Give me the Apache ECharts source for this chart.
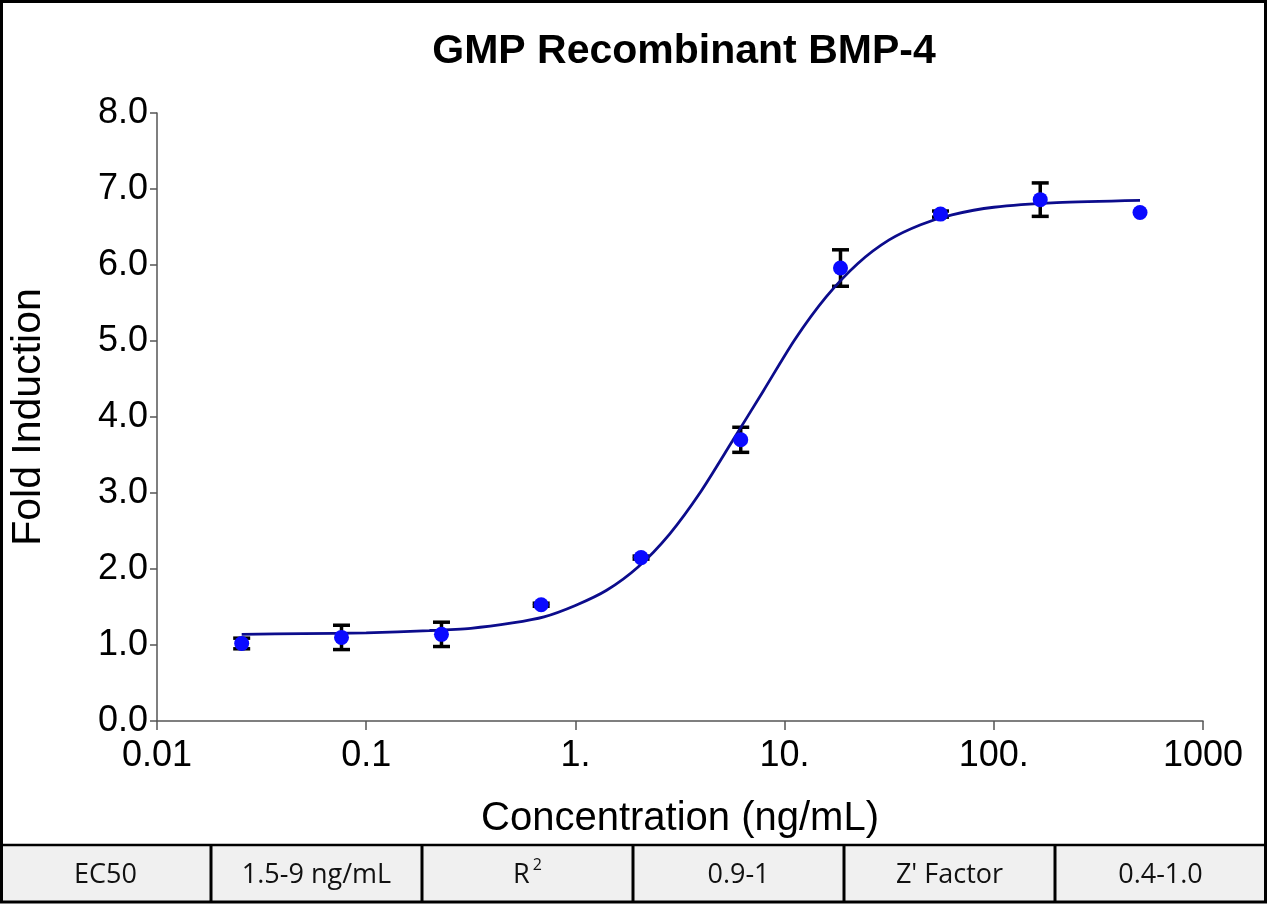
<!DOCTYPE html>
<html>
<head>
<meta charset="utf-8">
<script src="https://cdn.jsdelivr.net/npm/echarts@6/dist/echarts.min.js"></script>
<style>
html,body{margin:0;padding:0;background:#fff;}
#chart{width:1269px;height:905px;}
</style>
</head>
<body>
<div id="chart"></div>
<script>
// Concentrations (ng/mL), 3-fold dilution series
var concentrations = [0.0254, 0.0762, 0.229, 0.686, 2.06, 6.17, 18.5, 55.6, 166.7, 500];
var foldInduction = [1.02, 1.10, 1.14, 1.53, 2.15, 3.70, 5.96, 6.67, 6.86, 6.69];
var errorSize = [0.07, 0.16, 0.16, 0.02, 0.02, 0.165, 0.24, 0.04, 0.22, 0.0];

// Fitted curve
var curveX = [0.0254, 0.05, 0.1, 0.2, 0.316, 0.5, 0.708, 1.0, 1.41, 2.0, 2.82, 3.98, 5.62, 7.94, 11.2, 15.8, 22.4, 31.6, 44.7, 63.1, 100, 200, 500];
var curveY = [1.14, 1.15, 1.16, 1.19, 1.22, 1.29, 1.37, 1.52, 1.72, 2.03, 2.46, 3.02, 3.68, 4.35, 5.02, 5.58, 6.02, 6.33, 6.53, 6.66, 6.76, 6.82, 6.85];

var xTickLabels = ['0.01', '0.1', '1.', '10.', '100.', '1000'];
var yTickLabels = ['0.0', '1.0', '2.0', '3.0', '4.0', '5.0', '6.0', '7.0', '8.0'];

var tableCells = ['EC50', '1.5-9 ng/mL', 'R2', '0.9-1', "Z' Factor", '0.4-1.0'];

var chart = echarts.init(document.getElementById('chart'));

var pointData = concentrations.map(function (c, i) { return [c, foldInduction[i]]; });
var errData = concentrations.map(function (c, i) {
  return [c, foldInduction[i] - errorSize[i], foldInduction[i] + errorSize[i]];
});
var curveData = curveX.map(function (c, i) { return [c, curveY[i]]; });

var FONT = '"Liberation Sans", Arial, sans-serif';

// table graphics
var tableTop = 845, tableBottom = 902, W = 1269;
var colW = 211;
var graphics = [];
graphics.push({
  type: 'rect', z: 0,
  shape: { x: 1.5, y: tableTop, width: W - 5, height: tableBottom - tableTop },
  style: { fill: '#f0f0f0', stroke: null }
});
for (var c = 1; c < 6; c++) {
  graphics.push({
    type: 'line', z: 10,
    shape: { x1: c * colW, y1: tableTop, x2: c * colW, y2: tableBottom },
    style: { stroke: '#000', lineWidth: 3 }
  });
}
graphics.push({
  type: 'line', z: 10,
  shape: { x1: 0, y1: tableTop, x2: W - 3, y2: tableTop },
  style: { stroke: '#000', lineWidth: 2.5 }
});
tableCells.forEach(function (t, i) {
  var txt = t === 'R2' ? '{r|R}{s|2}' : t;
  graphics.push({
    type: 'text', z: 11,
    x: i * colW + colW / 2, y: (tableTop + tableBottom) / 2 + 2,
    style: {
      text: txt,
      font: '27px "Open Sans", sans-serif',
      fill: '#111',
      align: 'center', verticalAlign: 'middle',
      rich: {
        r: { fontSize: 27, fontFamily: 'Open Sans', fill: '#111' },
        s: { fontSize: 16, fontFamily: 'Open Sans', fill: '#111', verticalAlign: 'top', padding: [0, 0, 20, 3] }
      }
    }
  });
});
// outer border
graphics.push({
  type: 'rect', z: 12,
  shape: { x: 1.5, y: 1.5, width: W - 5, height: tableBottom - 1.5 },
  style: { fill: null, stroke: '#000', lineWidth: 3 }
});

var option = {
  animation: false,
  backgroundColor: '#fff',
  title: {
    text: 'GMP Recombinant BMP-4',
    left: 679, top: 26, textAlign: 'center',
    textStyle: { fontFamily: FONT, fontWeight: 'bold', fontSize: 41, color: '#000' }
  },
  grid: { left: 154, right: 66, top: 113, bottom: 184, containLabel: false },
  xAxis: {
    type: 'log', logBase: 10, min: 0.01, max: 1000,
    name: 'Concentration (ng/mL)', nameLocation: 'middle', nameGap: 78,
    nameTextStyle: { fontFamily: FONT, fontSize: 40, color: '#000' },
    axisLine: { show: true, lineStyle: { color: '#555', width: 1.5 } },
    axisTick: { show: true, length: 9, lineStyle: { color: '#555', width: 1.5 } },
    minorTick: { show: false },
    splitLine: { show: false },
    axisLabel: {
      fontFamily: FONT, fontSize: 36, color: '#000', margin: 17,
      formatter: function (v) {
        var idx = Math.round(Math.log10(v)) + 2;
        return xTickLabels[idx] !== undefined ? xTickLabels[idx] : '';
      }
    }
  },
  yAxis: {
    type: 'value', min: 0, max: 8, interval: 1,
    name: 'Fold Induction', nameLocation: 'middle', nameGap: 108, nameRotate: 90,
    nameTextStyle: { fontFamily: FONT, fontSize: 41, color: '#000' },
    axisLine: { show: true, lineStyle: { color: '#555', width: 1.5 } },
    axisTick: { show: true, length: 7, lineStyle: { color: '#555', width: 1.5 } },
    splitLine: { show: false },
    axisLabel: {
      fontFamily: FONT, fontSize: 36, color: '#000', margin: 9,
      formatter: function (v) { return yTickLabels[Math.round(v)]; }
    }
  },
  series: [
    {
      type: 'custom', z: 2,
      data: errData,
      renderItem: function (params, api) {
        var x = api.value(0), lo = api.value(1), hi = api.value(2);
        if (hi - lo <= 0) return null;
        var pLo = api.coord([x, lo]);
        var pHi = api.coord([x, hi]);
        var hw = 8.5;
        var st = { stroke: '#000', lineWidth: 3.5 };
        return {
          type: 'group',
          children: [
            { type: 'line', shape: { x1: pLo[0], y1: pLo[1], x2: pHi[0], y2: pHi[1] }, style: st },
            { type: 'line', shape: { x1: pLo[0] - hw, y1: pLo[1], x2: pLo[0] + hw, y2: pLo[1] }, style: st },
            { type: 'line', shape: { x1: pHi[0] - hw, y1: pHi[1], x2: pHi[0] + hw, y2: pHi[1] }, style: st }
          ]
        };
      }
    },
    {
      type: 'line', z: 3,
      data: curveData,
      smooth: 0.25,
      showSymbol: false,
      lineStyle: { color: '#0c0c8c', width: 2.8 }
    },
    {
      type: 'scatter', z: 4,
      data: pointData,
      symbol: 'circle', symbolSize: 15,
      itemStyle: { color: '#0a0aff', opacity: 1 }
    }
  ],
  graphic: graphics
};
chart.setOption(option);
</script>
</body>
</html>
